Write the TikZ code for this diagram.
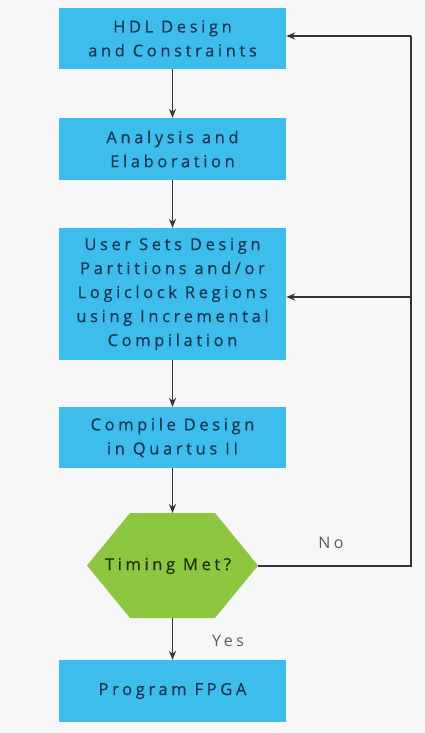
\documentclass[tikz,border=0pt]{standalone}
\usepackage{fontspec}
\setmainfont{Open Sans}
\usetikzlibrary{arrows.meta,shapes.geometric}
\definecolor{bg}{HTML}{F7F7F7}
\definecolor{boxblue}{HTML}{3DBDEB}
\definecolor{hexgreen}{HTML}{8DC63F}
\definecolor{txt}{HTML}{1A3550}
\definecolor{hextxt}{HTML}{1E3010}
\definecolor{ln}{HTML}{333333}
\newcommand{\flowfont}{\fontsize{16.5}{24}\selectfont\addfontfeatures{LetterSpace=22,FakeBold=0.4}}
\tikzset{
  stepbox/.style={fill=boxblue, draw=none, minimum width=227pt, align=center, inner sep=0pt,
    font=\flowfont, text=txt},
  flow/.style={draw=ln, line width=1.8pt, -{Stealth[length=9pt,width=7pt]}},
  lbl/.style={font=\fontsize{16}{18}\selectfont\addfontfeatures{LetterSpace=22}, text=ln!80}
}
\begin{document}
\begin{tikzpicture}[x=1pt,y=-1pt]
\fill[bg] (0,0) rectangle (425,733);
\useasboundingbox (0,0) rectangle (425,733);
\node[stepbox, minimum height=61pt] (b1) at (172.5,38.5) {HDL Design\\and Constraints};
\node[stepbox, minimum height=62pt] (b2) at (172.5,149) {Analysis and\\Elaboration};
\node[stepbox, minimum height=132pt] (b3) at (172.5,294) {User Sets Design\\Partitions and/or\\Logiclock Regions\\using Incremental\\Compilation};
\node[stepbox, minimum height=61pt] (b4) at (172.5,437.5) {Compile Design\\in Quartus II};
\fill[hexgreen] (130,513) -- (215,513) -- (258,565.5) -- (215,618) -- (130,618) -- (87,565.5) -- cycle;
\node[font=\flowfont, text=hextxt] (hx) at (168,566) {Timing Met?};
\coordinate (hxt) at (172.5,513);
\coordinate (hxb) at (172.5,618);
\coordinate (hxr) at (258,565.5);
\node[stepbox, minimum height=62pt] (b5) at (172.5,691) {Program FPGA};
\coordinate (rt) at (411,36);
\coordinate (rm) at (411,297);
\coordinate (rb) at (411,565.5);
\draw[flow] (b1) -- (b2);
\draw[flow] (b2) -- (b3);
\draw[flow] (b3) -- (b4);
\draw[flow] (b4) -- (hxt);
\draw[flow] (hxb) -- (b5);
\draw[draw=ln, line width=2pt] (hxr) -- (rb) -- (rt);
\draw[flow] (rt) -- (b1.east |- rt);
\draw[flow] (rm) -- (b3.east |- rm);
\node[lbl] (no) at (331,543) {No};
\node[lbl] (yes) at (228,641) {Yes};
\end{tikzpicture}
\end{document}
